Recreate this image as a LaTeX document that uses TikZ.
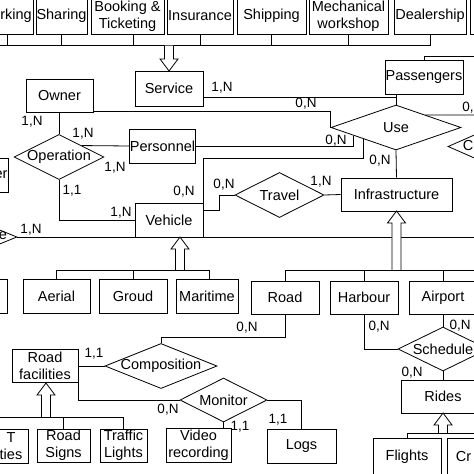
\documentclass[tikz,border=0pt]{standalone}
\usepackage{fontspec}
\setmainfont{Liberation Sans}
\usetikzlibrary{shapes.geometric,calc}

\tikzset{
  ent/.style 2 args={draw, fill=white, inner sep=0pt, align=center, minimum width=#1, minimum height=#2},
  rel/.style 2 args={draw, fill=white, diamond, aspect=6, inner xsep=0pt, inner ysep=-6pt, minimum width=#1, minimum height=#2},
  card/.style={font=\fontsize{13.5}{15}\selectfont, inner sep=0pt},
}
% hollow generalisation arrow: x, y of tip, y of tail
\newcommand{\isarrow}[3]{\draw[fill=white] ({#1-4.5},#3) -- ({#1-4.5},{#2+12*sign(#3-(#2))}) -- ({#1-9},{#2+12*sign(#3-(#2))}) -- (#1,#2) -- ({#1+9},{#2+12*sign(#3-(#2))}) -- ({#1+4.5},{#2+12*sign(#3-(#2))}) -- ({#1+4.5},#3);}

\begin{document}
\begin{tikzpicture}[x=1pt, y=-1pt, line width=0.8pt, font=\fontsize{14.5}{17}\selectfont]
\useasboundingbox (0,0) rectangle (474,474);
\clip (0,0) rectangle (474,474);

% top row of services
\node[ent={34}{36}] (parking) at (16,16) {rking};
\node[ent={51}{36}] (sharing) at (61.5,16) {Sharing};
\node[ent={73}{36}] (booking) at (127.5,16) {Booking \&\\Ticketing};
\node[ent={66}{36}] (insurance) at (200,16) {Insurance};
\node[ent={69}{36}] (shipping) at (271.5,16) {Shipping};
\node[ent={79}{36}] (workshop) at (348.5,16) {Mechanical\\workshop};
\node[ent={72}{36}] (dealership) at (430,16) {Dealership};
\node[ent={60}{36}] (topnext) at (500,16) {};
\draw (-10,45.5) -- (dealership.south |- 0,45.5);
\draw (parking.south -| 7,0) -- (7,45.5);
\draw (booking.south -| 133,0) -- (133,45.5);
\foreach \n in {sharing,insurance,shipping,workshop,dealership}
  \draw (\n.south) -- (\n.south |- 0,45.5);

% entities
\node[ent={68}{35}] (service) at (169,88.5) {Service};
\node[ent={67}{33}] (owner) at (59.5,95.5) {Owner};
\node[ent={78}{34}] (passengers) at (424,77) {Passengers};
\node[ent={65}{34}] (personnel) at (162.5,146) {Personnel};
\node[ent={14}{34}] (driver) at (1,175) {er};
\node[ent={68}{34}] (vehicle) at (169,220) {Vehicle};
\node[ent={111}{33}] (infra) at (396.5,194.5) {Infrastructure};

% relationships
\node[rel={130}{45}] (use) at (396,127.5) {Use};
\node[rel={90}{45}] (operation) at (59,157) {Operation};
\node[rel={89}{45}] (travel) at (279.5,195) {Travel};
\node[rel={110}{45}] (own) at (-38,237) {};
\node (etext) at (3,236) {e};
\node[rel={102}{45}] (cdiam) at (499,146.5) {};
\node (ctext) at (468,146) {C};

\isarrow{169}{71}{45.5}
\draw (service.east |- 0,97) -- (use.north |- 0,97) -- (use.north);
\draw (use.north |- passengers.south) -- (use.north);
\draw (passengers.north) |- (480,56.5);
\draw (owner.east |- 0,111) -- (use.west |- 0,111) -- (use.west);
\draw (operation.north |- owner.south) -- (operation.north);
\draw (personnel.west) -- (operation.north east);
\draw (operation.south) |- (vehicle.west);
\draw (personnel.east) -| ($(use.west)!0.354!(use.south)$);
\draw (vehicle.north east) |- (use.south west |- 0,158) -- (use.south west);
\draw (use.south) -- (infra.north);
\draw (vehicle.east |- 0,210) -- (219,210) |- (travel.west);
\draw (travel.east) -- (infra.west);
\draw (own.east) -- (480,237);
\draw ($(use.north)!0.45!(use.east)$) -- (480,115);

% cardinalities
\node[card] (c1) at (222,88) {1,N};
\node[card] (c2) at (306,104) {0,N};
\node[card] (c3) at (32,122) {1,N};
\node[card] (c4) at (83,134) {1,N};
\node[card] (c5) at (115,168) {1,N};
\node[card] (c6) at (72,191) {1,1};
\node[card] (c7) at (121,213) {1,N};
\node[card] (c8) at (184,192) {0,N};
\node[card] (c9) at (224,185) {0,N};
\node[card] (c10) at (31,230) {1,N};
\node[card] (c11) at (321,182) {1,N};
\node[card] (c12) at (336,141) {0,N};
\node[card] (c13) at (380,161) {0,N};
\node[card, anchor=west] (c14) at (462,108) {0,N};

% vehicle kinds
\node[ent={68}{34}] (leftkind) at (-27,296) {};
\node[ent={67}{34}] (aerial) at (56.5,296) {Aerial};
\node[ent={68}{34}] (ground) at (133,296) {Groud};
\node[ent={62}{34}] (maritime) at (207,296) {Maritime};
\isarrow{180}{237}{270}
\draw (aerial.north |- 0,270) -- (209,270);
\foreach \n in {aerial,ground}
  \draw (\n.north) -- (\n.north |- 0,270);
\draw (209,270) -- (maritime.north -| 209,0);

% infrastructure kinds
\node[ent={68}{33}] (road) at (285,297.5) {Road};
\node[ent={68}{33}] (harbour) at (364,297.5) {Harbour};
\node[ent={68}{33}] (airport) at (443,297.5) {Airport};
\isarrow{396.5}{211}{270}
\draw (road.north |- 0,270) -- (480,270);
\foreach \n in {road,harbour,airport}
  \draw (\n.north) -- (\n.north |- 0,270);

% road side
\node[ent={66}{33}] (roadfac) at (45,366) {Road\\facilities};
\node[rel={112}{45}] (composition) at (161,366) {Composition};
\node[rel={87}{44}] (monitor) at (223.5,400) {Monitor};
\node[ent={34}{34}] (itsfac) at (11,446) {T\\ties};
\node[ent={53}{33}] (roadsigns) at (63.5,445.5) {Road\\Signs};
\node[ent={47}{33}] (lights) at (123.5,445.5) {Traffic\\Lights};
\node[ent={65}{34}] (video) at (198.5,445) {Video\\recording};
\node[ent={69}{34}] (logs) at (301.5,446) {Logs};
\draw (road.south) |- (composition.north |- 0,337) -- (composition.north);
\draw (roadfac.east) -- (composition.west);
\draw (roadfac.south east) |- (monitor.west);
\draw (monitor.south) -- (monitor.south |- video.north);
\draw (monitor.east) -| (logs.north);
\isarrow{46}{383}{417}
\draw (-10,417) -- (lights.north |- 0,417);
\foreach \n in {roadsigns,lights}
  \draw (\n.north) -- (\n.north |- 0,417);
\node[card] (c15) at (247,328) {0,N};
\node[card] (c19) at (94,354) {1,1};
\node[card] (c20) at (168,410) {0,N};
\node[card] (c21) at (240,427) {1,1};
\node[card] (c22) at (278,420) {1,1};

% air and sea side
\node[rel={90}{44}] (schedule) at (443,349) {Schedule};
\node[ent={84}{33}] (rides) at (443,396.5) {Rides};
\node[ent={68}{38}] (flights) at (407,457) {Flights};
\node[ent={33}{38}] (cruise) at (463.5,457) {Cr};
\draw (harbour.south) |- (schedule.west);
\draw (airport.south) -- (schedule.north);
\draw (schedule.south) -- (rides.north);
\isarrow{443}{413}{433}
\draw (flights.north |- 0,433) -- (480,433);
\draw (flights.north) -- (flights.north |- 0,433);
\node[card] (c16) at (379,327) {0,N};
\node[card] (c17) at (460,326) {0,N};
\node[card] (c18) at (412,373) {0,N};
\end{tikzpicture}
\end{document}
